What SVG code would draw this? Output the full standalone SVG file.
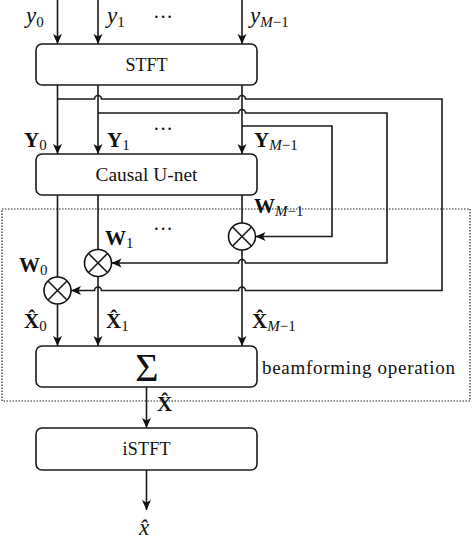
<svg xmlns="http://www.w3.org/2000/svg" width="472" height="542" viewBox="0 0 472 542">
<defs>
<marker id="ah" markerUnits="userSpaceOnUse" markerWidth="11" markerHeight="10" refX="10" refY="4.5" orient="auto">
<path d="M0,0 L10,4.5 L0,9 L2.5,4.5 Z" fill="#111"/>
</marker>
<style>
.box{fill:#fff;stroke:#1a1a1a;stroke-width:1.6}
.ln{fill:none;stroke:#1a1a1a;stroke-width:1.6}
.arr{fill:none;stroke:#1a1a1a;stroke-width:1.6;marker-end:url(#ah)}
.circ{fill:#fff;stroke:#111;stroke-width:1.6}
.t{font-family:"Liberation Serif","DejaVu Serif",serif;fill:#111}
.lbl{font-family:"Liberation Serif","DejaVu Serif",serif;fill:#111;font-size:18px;text-anchor:middle}
.mi{font-family:"Liberation Serif","DejaVu Serif",serif;font-style:italic;fill:#111;font-size:23px}
.bd{font-family:"Liberation Serif","DejaVu Serif",serif;font-weight:bold;fill:#111;font-size:21px}
.sb{font-size:15px;font-weight:normal;font-style:normal}
.si{font-size:15px;font-style:italic;font-weight:normal}
.dots{font-family:"Liberation Serif",serif;fill:#111;font-size:20px}
</style>
</defs>

<rect id="beamforming-region" x="2" y="209" width="468" height="192" fill="none" stroke="#222" stroke-width="1.2" stroke-dasharray="1.5,1.5"/>

<g id="connectors">
<line class="arr" x1="57.5" y1="0" x2="57.5" y2="44"/>
<line class="arr" x1="98" y1="0" x2="98" y2="44"/>
<line class="arr" x1="242" y1="0" x2="242" y2="44"/>
<line class="arr" x1="57.5" y1="85" x2="57.5" y2="154"/>
<line class="arr" x1="98" y1="85" x2="98" y2="154"/>
<line class="arr" x1="242" y1="85" x2="242" y2="154"/>
<path class="arr" d="M57.5,99 H94.5 A3.5,3.5 0 0 1 101.5,99 H238.5 A3.5,3.5 0 0 1 245.5,99 H442 V290.5 H245.5 A3.5,3.5 0 0 0 238.5,290.5 H101.5 A3.5,3.5 0 0 0 94.5,290.5 H71"/>
<path class="arr" d="M98,113 H238.5 A3.5,3.5 0 0 1 245.5,113 H387 V263 H245.5 A3.5,3.5 0 0 0 238.5,263 H111.5"/>
<path class="arr" d="M242,126 H332 V236.5 H255.5"/>
<line class="ln" x1="57.5" y1="195" x2="57.5" y2="277"/>
<line class="ln" x1="98" y1="195" x2="98" y2="249.5"/>
<line class="ln" x1="242" y1="195" x2="242" y2="223"/>
<line class="arr" x1="57.5" y1="304" x2="57.5" y2="346"/>
<line class="arr" x1="98" y1="276.5" x2="98" y2="346"/>
<line class="arr" x1="242" y1="250" x2="242" y2="346"/>
<line class="arr" x1="146.5" y1="387" x2="146.5" y2="428"/>
<line class="arr" x1="146.5" y1="470" x2="146.5" y2="510"/>
</g>

<g id="stft">
<rect class="box" x="36" y="44" width="221" height="41" rx="6"/>
<text class="lbl" x="146.5" y="71" textLength="42">STFT</text>
</g>

<g id="unet">
<rect class="box" x="36" y="154" width="221" height="41" rx="6"/>
<text class="lbl" x="146.5" y="181" textLength="102" lengthAdjust="spacingAndGlyphs">Causal U-net</text>
</g>

<g id="mult-0">
<circle class="circ" cx="57.5" cy="290.5" r="13.5"/>
<path class="ln" d="M48,281 L67,300 M67,281 L48,300"/>
</g>
<g id="mult-1">
<circle class="circ" cx="98" cy="263" r="13.5"/>
<path class="ln" d="M88.5,253.5 L107.5,272.5 M107.5,253.5 L88.5,272.5"/>
</g>
<g id="mult-m1">
<circle class="circ" cx="242" cy="236.5" r="13.5"/>
<path class="ln" d="M232.5,227 L251.5,246 M251.5,227 L232.5,246"/>
</g>

<g id="sum">
<rect class="box" x="36" y="346" width="221" height="41" rx="6"/>
<text class="t" x="147" y="381" font-size="40" text-anchor="middle">Σ</text>
</g>

<g id="istft">
<rect class="box" x="36" y="428" width="221" height="42" rx="6"/>
<text class="lbl" x="146.5" y="455" textLength="48">iSTFT</text>
</g>

<g id="labels">
<text class="mi" x="26" y="23">y<tspan class="sb" dy="4">0</tspan></text>
<text class="mi" x="107" y="23">y<tspan class="sb" dy="4">1</tspan></text>
<text class="dots" x="153" y="24">···</text>
<text class="mi" x="250" y="23">y<tspan class="si" dy="4">M</tspan><tspan class="sb">−1</tspan></text>

<text class="bd" x="24" y="147">Y<tspan class="sb" dy="3">0</tspan></text>
<text class="bd" x="107" y="147">Y<tspan class="sb" dy="3">1</tspan></text>
<text class="dots" x="153" y="136">···</text>
<text class="bd" x="254" y="147">Y<tspan class="si" dy="3">M</tspan><tspan class="sb">−1</tspan></text>

<text class="bd" x="254" y="213">W<tspan class="si" dy="3">M</tspan><tspan class="sb">−1</tspan></text>
<text class="bd" x="105" y="245">W<tspan class="sb" dy="3">1</tspan></text>
<text class="dots" x="153" y="236">···</text>
<text class="bd" x="19" y="272">W<tspan class="sb" dy="3">0</tspan></text>

<text class="bd" x="24" y="328">X̂<tspan class="sb" dy="3">0</tspan></text>
<text class="bd" x="106" y="328">X̂<tspan class="sb" dy="3">1</tspan></text>
<text class="bd" x="252" y="328">X̂<tspan class="si" dy="3">M</tspan><tspan class="sb">−1</tspan></text>

<text class="t" x="262" y="374" font-size="19" textLength="193">beamforming operation</text>

<text class="bd" x="157" y="411">X̂</text>

<text class="mi" x="139" y="535">x̂</text>
</g>
</svg>
